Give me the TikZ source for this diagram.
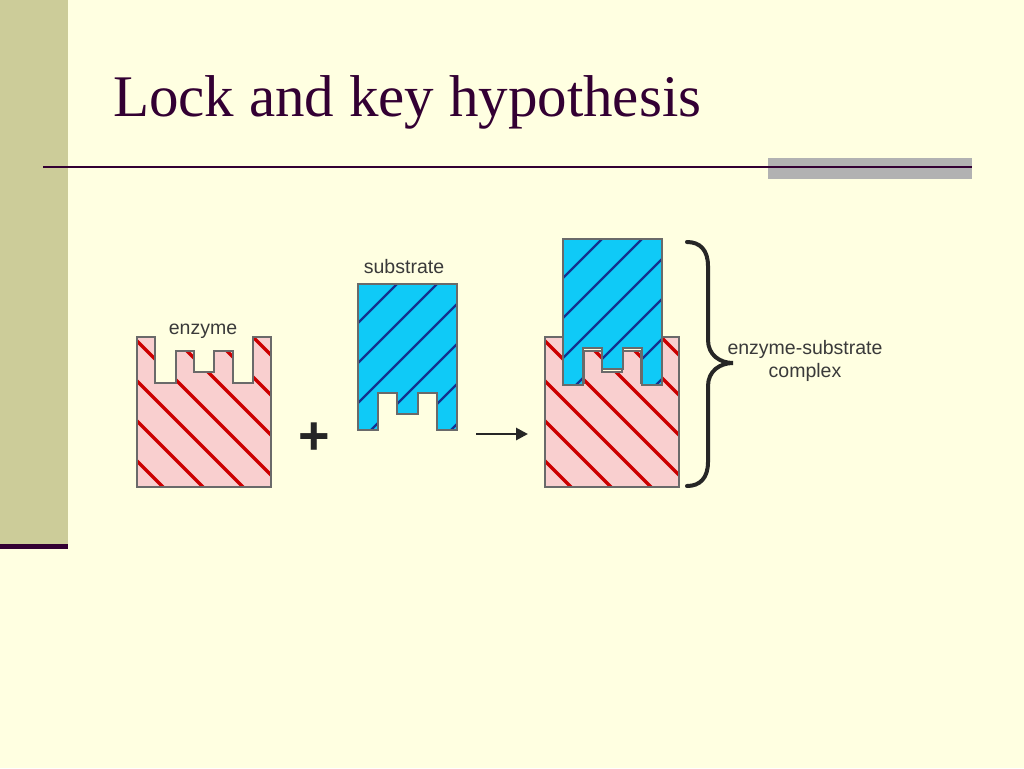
\documentclass[tikz,border=0pt]{standalone}
\usepackage{fontspec}
\setmainfont{Liberation Serif}
\newfontfamily\arialfam{Liberation Sans}
\usetikzlibrary{arrows.meta}
\definecolor{bgyellow}{HTML}{FFFFE1}
\definecolor{sidebar}{HTML}{CCCC99}
\definecolor{darkplum}{HTML}{330033}
\definecolor{barGray}{HTML}{B2B2B2}
\definecolor{enzfill}{HTML}{F9CFCF}
\definecolor{enzline}{HTML}{CC0000}
\definecolor{subfill}{HTML}{0FCAF7}
\definecolor{subline}{HTML}{14338F}
\definecolor{outl}{HTML}{6A6A6A}
\definecolor{labeltext}{HTML}{3A3A3A}
\tikzset{
  outline/.style={draw=outl, line width=1.6pt},
  enzhatch/.style={draw=enzline, line width=3.4pt},
  subhatch/.style={draw=subline, line width=2.3pt},
  lbl/.style={font=\arialfam\fontsize{19.5}{23}\selectfont, text=labeltext, inner sep=0pt, anchor=base},
}
\newcommand\drawenzyme[2]{%
  \begin{scope}[shift={(#1,#2)}]
    \fill[enzfill] (0,0) -- (18,0) -- (18,46) -- (39,46) -- (39,14) -- (57,14) -- (57,35) -- (77,35) -- (77,14) -- (96,14) -- (96,46) -- (116,46) -- (116,0) -- (134,0) -- (134,150) -- (0,150) -- cycle;
    \begin{scope}
      \clip (0,0) -- (18,0) -- (18,46) -- (39,46) -- (39,14) -- (57,14) -- (57,35) -- (77,35) -- (77,14) -- (96,14) -- (96,46) -- (116,46) -- (116,0) -- (134,0) -- (134,150) -- (0,150) -- cycle;
      \foreach \c in {-156,-116,-76,-36,4,44,84,124}
        \draw[enzhatch] (-10,-10+\c) -- (170,170+\c);
    \end{scope}
    \draw[outline] (0,0) -- (18,0) -- (18,46) -- (39,46) -- (39,14) -- (57,14) -- (57,35) -- (77,35) -- (77,14) -- (96,14) -- (96,46) -- (116,46) -- (116,0) -- (134,0) -- (134,150) -- (0,150) -- cycle;
  \end{scope}}
\newcommand\drawsubstrate[2]{%
  \begin{scope}[shift={(#1,#2)}]
    \fill[subfill] (0,0) -- (99,0) -- (99,146) -- (79,146) -- (79,109) -- (60,109) -- (60,130) -- (39,130) -- (39,109) -- (20,109) -- (20,146) -- (0,146) -- cycle;
    \begin{scope}
      \clip (0,0) -- (99,0) -- (99,146) -- (79,146) -- (79,109) -- (60,109) -- (60,130) -- (39,130) -- (39,109) -- (20,109) -- (20,146) -- (0,146) -- cycle;
      \foreach \c in {-1,39,79,119,159,199,239}
        \draw[subhatch] (-10,\c+10) -- (260,\c-260);
    \end{scope}
    \draw[outline] (0,0) -- (99,0) -- (99,146) -- (79,146) -- (79,109) -- (60,109) -- (60,130) -- (39,130) -- (39,109) -- (20,109) -- (20,146) -- (0,146) -- cycle;
  \end{scope}}
\begin{document}
\begin{tikzpicture}[x=1pt,y=-1pt]
  \useasboundingbox (0,0) rectangle (1024,768);
  \fill[bgyellow] (0,0) rectangle (1024,768);
  % sidebar
  \fill[sidebar] (0,0) rectangle (68,544);
  \fill[darkplum] (0,544) rectangle (68,549);
  % title
  \node (title) [anchor=base west, inner sep=0pt, text=darkplum, font=\fontsize{59}{70}\selectfont] at (113,116) {Lock and key hypothesis};
  % rule
  \fill[barGray] (768,158) rectangle (972,179);
  \coordinate (ruleL) at (43,167);
  \coordinate (ruleR) at (972,167);
  \draw[darkplum, line width=2.3pt] (ruleL) -- (ruleR);
  % enzyme
  \drawenzyme{137}{337}
  \node (enzlbl) [lbl] at (203,334) {enzyme};
  % substrate
  \drawsubstrate{358}{284}
  \node (sublbl) [lbl] at (404,273) {substrate};
  % plus
  \node (plus) [font=\arialfam\bfseries\fontsize{54}{60}\selectfont, text=black!85, inner sep=0pt, anchor=base] at (314,454) {+};
  % arrow
  \coordinate (arrS) at (476,434);
  \coordinate (arrE) at (528,434);
  \draw[black!85, line width=2.8pt, -{Triangle[length=12pt,width=12pt]}] (arrS) -- (arrE);
  % complex
  \drawenzyme{545}{337}
  \drawsubstrate{563}{239}
  % brace
  \draw[black!85, line width=4pt, line cap=round]
    (687,242) .. controls (700,242) and (708,250) .. (708,266) -- (708,340)
    .. controls (708,355) and (720,363) .. (733,363)
    .. controls (720,363) and (708,371) .. (708,386) -- (708,462)
    .. controls (708,478) and (700,486) .. (687,486);
  \node (cxl1) [lbl] at (805,354) {enzyme-substrate};
  \node (cxl2) [lbl] at (805,377) {complex};
\end{tikzpicture}
\end{document}
